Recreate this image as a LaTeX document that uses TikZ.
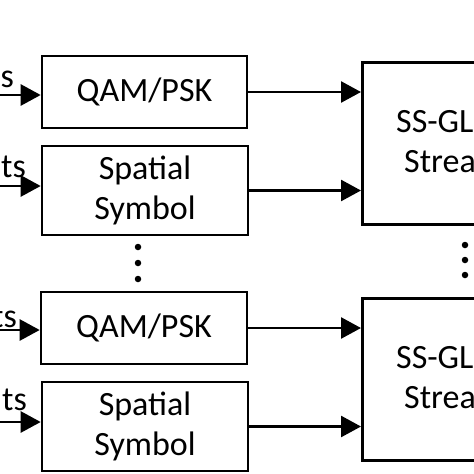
\documentclass[tikz,border=0pt]{standalone}
\usepackage{fontspec}
\setmainfont{Carlito}
\usetikzlibrary{arrows.meta}
\begin{document}
\begin{tikzpicture}[x=1pt,y=-1pt,
  every node/.style={font=\fontsize{34}{40}\selectfont, inner sep=0pt},
  blk/.style={draw, line width=2.6pt, align=center},
  bigblk/.style={draw, line width=2.6pt, anchor=north west, minimum width=140pt, minimum height=162pt},
  arr/.style={line width=2.6pt, -{Triangle[length=20pt,width=21pt]}},
  lbl/.style={anchor=base east},
  dot/.style={circle, fill, minimum size=6.5pt}]
\useasboundingbox (0,0) rectangle (474,474);
\clip (0,0) rectangle (474,474);
% small blocks
\node[blk, minimum width=205pt, minimum height=72pt] (b1) at (144.5,92) {QAM/PSK};
\node[blk, minimum width=206pt, minimum height=89pt] (b2) at (145,190.5) {Spatial\\Symbol};
\node[blk, minimum width=206pt, minimum height=72pt] (b3) at (144,328) {QAM/PSK};
\node[blk, minimum width=206pt, minimum height=89pt] (b4) at (145,426.5) {Spatial\\Symbol};
% big blocks
\node[bigblk] (g1) at (361,61) {};
\node[bigblk] (g2) at (361,297) {};
\node[anchor=base west] (t1a) at (396,132) {SS-GL};
\node[anchor=base west] (t1b) at (404,172) {Strea};
\node[anchor=base west] (t2a) at (396,368) {SS-GL};
\node[anchor=base west] (t2b) at (404,408) {Strea};
% input labels
\node[lbl] (l1) at (14,87) {s};
\node[lbl] (l2) at (26,177) {ts};
\node[lbl] (l3) at (17,327) {ts};
\node[lbl] (l4) at (27,410) {ts};
% input arrows
\coordinate (i1) at (-2,95);
\coordinate (i2) at (-2,186);
\coordinate (i3) at (-2,330);
\coordinate (i4) at (-2,422);
\draw[arr] (i1) -- (i1 -| b1.west);
\draw[arr] (i2) -- (i2 -| b2.west);
\draw[arr] (i3) -- (i3 -| b3.west);
\draw[arr] (i4) -- (i4 -| b4.west);
% output arrows
\draw[arr] (b1.east) -- (b1.east -| g1.west);
\draw[arr] (b2.east) -- (b2.east -| g1.west);
\draw[arr] (b3.east) -- (b3.east -| g2.west);
\draw[arr] (b4.east) -- (b4.east -| g2.west);
% dots
\node[dot] (d1) at (138,247) {};
\node[dot] (d2) at (138,263) {};
\node[dot] (d3) at (138,279) {};
\node[dot] (e1) at (465,245) {};
\node[dot] (e2) at (465,260) {};
\node[dot] (e3) at (465,275) {};
\end{tikzpicture}
\end{document}
